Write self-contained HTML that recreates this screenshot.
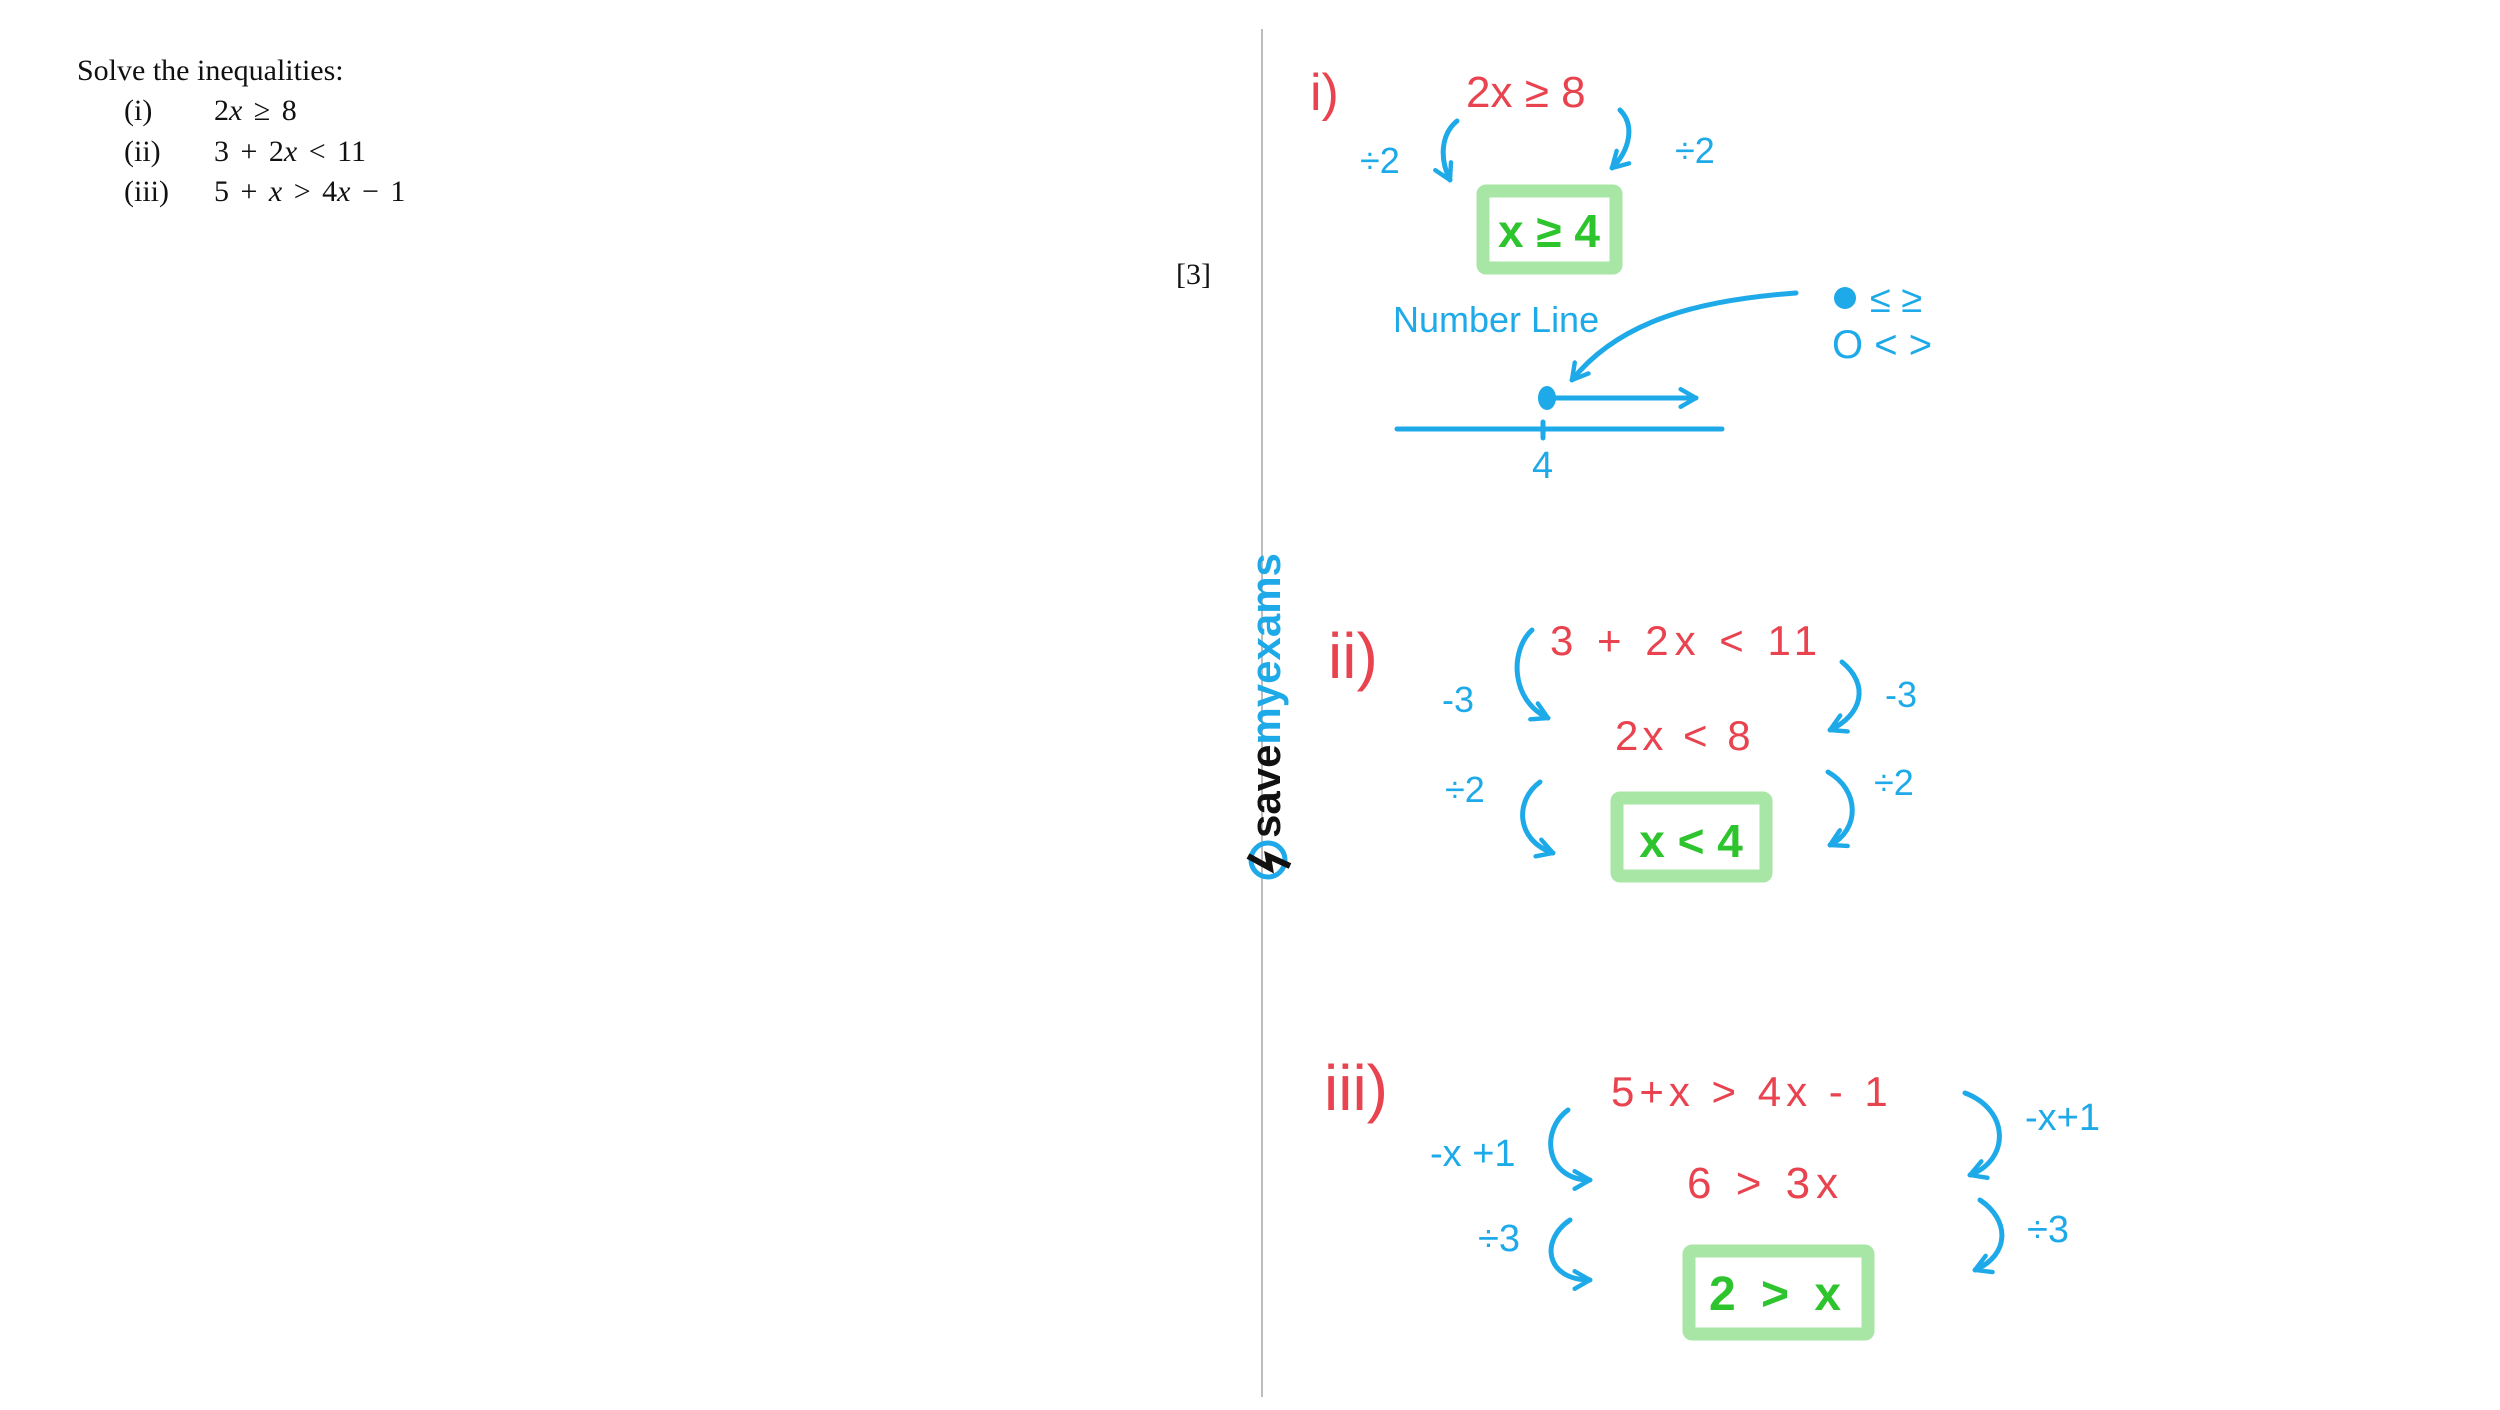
<!DOCTYPE html>
<html><head><meta charset="utf-8"><style>
html,body{margin:0;padding:0;background:#fff;}
svg{display:block;}
.q{font-family:"Liberation Serif",serif;font-size:30px;fill:#111;}
.e{font-family:"Liberation Serif",serif;font-size:30px;fill:#111;word-spacing:4px;}
.r{font-family:"Liberation Sans",sans-serif;fill:#e8434f;}
.b{font-family:"Liberation Sans",sans-serif;fill:#1eaae8;}
.g{font-family:"Liberation Sans",sans-serif;fill:#2ec42e;font-weight:bold;}
.a{fill:none;stroke:#1eaae8;stroke-width:5;stroke-linecap:round;stroke-linejoin:round;}
</style></head><body>
<svg width="2500" height="1410" viewBox="0 0 2500 1410" xmlns="http://www.w3.org/2000/svg">
<defs>
<marker id="h" viewBox="0 0 20 20" refX="16" refY="10" markerWidth="22" markerHeight="22" markerUnits="userSpaceOnUse" orient="auto">
<path d="M2,2 L16,10 L2,18" fill="none" stroke="#1eaae8" stroke-width="4" stroke-linecap="round" stroke-linejoin="round"/>
</marker>
</defs>
<!-- question -->
<text class="q" x="77" y="80">Solve the inequalities:</text>
<text class="q" x="124" y="120">(i)</text><text class="e" x="214" y="120">2<tspan font-style="italic">x</tspan> ≥ 8</text>
<text class="q" x="124" y="161">(ii)</text><text class="e" x="214" y="161">3 + 2<tspan font-style="italic">x</tspan> &lt; 11</text>
<text class="q" x="124" y="201">(iii)</text><text class="e" x="214" y="201">5 + <tspan font-style="italic">x</tspan> &gt; 4<tspan font-style="italic">x</tspan> − 1</text>
<text class="q" x="1176" y="284">[3]</text>
<line x1="1262" y1="29" x2="1262" y2="1397" stroke="#bdbdbd" stroke-width="2"/>
<!-- logo -->
<g transform="translate(1280,878) rotate(-90)">
<circle cx="18" cy="-12" r="17" fill="none" stroke="#1eaae8" stroke-width="5"/>
<path d="M22,-32 L10,-10 L22,-12 L12,10" fill="none" stroke="#111" stroke-width="6"/>
<text x="40" y="0" font-family="Liberation Sans,sans-serif" font-weight="bold" font-size="42" fill="#111">save<tspan fill="#1eaae8">myexams</tspan></text>
</g>
<!-- section i -->
<text class="r" x="1310" y="110" font-size="52">i)</text>
<text class="r" x="1466" y="107" font-size="44">2x ≥ 8</text>
<path class="a" d="M1457,121 C1440,135 1440,160 1450,180" marker-end="url(#h)"/>
<path class="a" d="M1620,110 C1635,125 1630,150 1612,168" marker-end="url(#h)"/>
<text class="b" x="1360" y="173" font-size="36">÷2</text>
<text class="b" x="1675" y="163" font-size="36">÷2</text>
<rect x="1483" y="191" width="133" height="77" fill="#fff" stroke="#a8e6a6" stroke-width="13" rx="3"/>
<text class="g" x="1549" y="247" font-size="46" text-anchor="middle">x ≥ 4</text>
<text class="b" x="1393" y="332" font-size="36">Number Line</text>
<circle cx="1845" cy="298" r="11" fill="#1eaae8"/>
<text class="b" x="1870" y="312" font-size="38">≤ ≥</text>
<text class="b" x="1832" y="358" font-size="40">O &lt; &gt;</text>
<path class="a" d="M1796,293 C1700,300 1620,320 1572,380" stroke-width="3.5" marker-end="url(#h)"/>
<line x1="1397" y1="429" x2="1722" y2="429" class="a"/>
<line x1="1543" y1="422" x2="1543" y2="438" class="a"/>
<text class="b" x="1532" y="478" font-size="38">4</text>
<ellipse cx="1547" cy="398" rx="9" ry="12" fill="#1eaae8"/>
<path class="a" d="M1550,398 L1696,398" stroke-width="4" marker-end="url(#h)"/>
<!-- section ii -->
<text class="r" x="1328" y="678" font-size="64">ii)</text>
<text class="r" x="1550" y="655" font-size="42" letter-spacing="6">3 + 2x &lt; 11</text>
<path class="a" d="M1532,630 C1510,650 1510,700 1548,718" marker-end="url(#h)"/>
<path class="a" d="M1842,662 C1870,685 1862,715 1830,730" marker-end="url(#h)"/>
<text class="b" x="1442" y="712" font-size="36">-3</text>
<text class="b" x="1885" y="707" font-size="36">-3</text>
<text class="r" x="1615" y="750" font-size="42" letter-spacing="4">2x &lt; 8</text>
<path class="a" d="M1540,782 C1515,800 1515,840 1553,853" marker-end="url(#h)"/>
<path class="a" d="M1828,772 C1860,790 1860,830 1830,845" marker-end="url(#h)"/>
<text class="b" x="1445" y="802" font-size="36">÷2</text>
<text class="b" x="1874" y="795" font-size="36">÷2</text>
<rect x="1617" y="798" width="149" height="78" fill="#fff" stroke="#a8e6a6" stroke-width="13" rx="3"/>
<text class="g" x="1691" y="857" font-size="46" text-anchor="middle">x &lt; 4</text>
<!-- section iii -->
<text class="r" x="1324" y="1110" font-size="64">iii)</text>
<text class="r" x="1611" y="1106" font-size="42" letter-spacing="5">5+x &gt; 4x - 1</text>
<path class="a" d="M1568,1110 C1540,1130 1545,1180 1590,1180" marker-end="url(#h)"/>
<path class="a" d="M1965,1093 C2010,1110 2010,1160 1970,1175" marker-end="url(#h)"/>
<text class="b" x="1430" y="1166" font-size="38">-x +1</text>
<text class="b" x="2025" y="1130" font-size="38">-x+1</text>
<text class="r" x="1687" y="1198" font-size="44" letter-spacing="6">6 &gt; 3x</text>
<path class="a" d="M1570,1220 C1540,1240 1545,1280 1590,1280" marker-end="url(#h)"/>
<path class="a" d="M1980,1200 C2010,1220 2010,1255 1975,1270" marker-end="url(#h)"/>
<text class="b" x="1478" y="1251" font-size="38">÷3</text>
<text class="b" x="2027" y="1242" font-size="38">÷3</text>
<rect x="1689" y="1251" width="179" height="83" fill="#fff" stroke="#a8e6a6" stroke-width="13" rx="3"/>
<text class="g" x="1778" y="1310" font-size="48" text-anchor="middle" letter-spacing="6">2 &gt; x</text>
</svg>
</body></html>
